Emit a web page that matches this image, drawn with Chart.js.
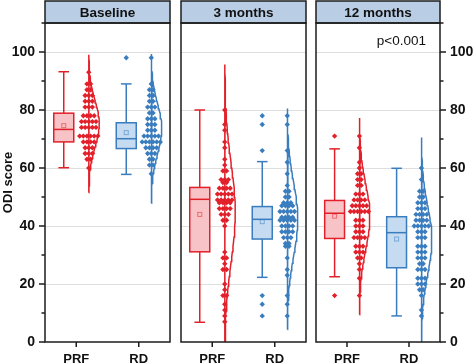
<!DOCTYPE html>
<html>
<head>
<meta charset="utf-8">
<script src="https://cdn.jsdelivr.net/npm/chart.js@4.4.1/dist/chart.umd.min.js"></script>
<style>
  html, body { margin: 0; padding: 0; background: #fff; }
  #wrap { position: relative; width: 474px; height: 364px; }
  #wrap canvas { position: absolute; left: 0; top: 0; }
</style>
</head>
<body>
<div id="wrap">
  <canvas id="c0" width="474" height="364"></canvas>
  <canvas id="c1" width="474" height="364"></canvas>
  <canvas id="c2" width="474" height="364"></canvas>
</div>
<script>
const panels = ['Baseline', '3 months', '12 months'];
const groups = ['PRF', 'RD'];
const yTicks = [0, 20, 40, 60, 80, 100];

// individual ODI scores
const prfBaseline = [93, 89, 89, 87, 87, 85, 85, 85, 83, 83, 83, 81, 81, 81, 78, 78, 78, 78,
  76, 76, 76, 76, 76, 74, 74, 74, 74, 74, 71, 71, 71, 71, 71, 71, 69, 69, 69, 69,
  67, 67, 67, 65, 65, 65, 63, 63, 60];
const rdBaseline = [98, 89, 87, 87, 85, 85, 83, 83, 81, 81, 81, 79, 79, 77, 77, 77, 75, 75, 75,
  73, 73, 73, 71, 71, 71, 71, 71, 69, 69, 69, 69, 69, 69, 67, 67, 67, 67, 65, 65, 65,
  63, 63, 61, 61, 58];
const prf3m = [80, 75, 73, 69, 67, 63, 61, 59, 59, 56, 56, 56, 55, 55, 53, 53, 53, 53,
  51, 51, 51, 51, 51, 49, 49, 49, 49, 49, 48, 48, 48, 48, 46, 46, 46, 46, 44, 44, 44,
  42, 42, 40, 31, 29, 29, 27, 25, 25, 20, 18, 16, 16, 13, 11, 9, 7];
const rd3m = [78, 75, 66, 62, 58, 54, 52, 52, 50, 50, 48, 48, 48, 47, 47, 47, 47,
  45, 45, 45, 45, 45, 43, 43, 43, 43, 42, 42, 42, 42, 42, 40, 40, 40, 40, 38, 38, 38, 38,
  36, 36, 36, 34, 34, 33, 33, 29, 25, 23, 16, 13, 9];
const prf12m = [71, 67, 62, 60, 58, 58, 56, 56, 54, 54, 51, 51, 51, 49, 49, 49, 49,
  47, 47, 47, 47, 47, 45, 45, 45, 45, 45, 45, 42, 42, 42, 40, 40, 40, 38, 38, 38,
  36, 36, 36, 36, 33, 33, 33, 31, 31, 31, 29, 29, 27, 25, 22, 16];
const rd12m = [60, 56, 52, 52, 50, 50, 48, 48, 48, 46, 46, 46, 44, 44, 44, 44, 42, 42, 42, 42,
  40, 40, 40, 40, 40, 38, 38, 38, 36, 36, 36, 33, 33, 33, 31, 31, 31, 29, 29, 29, 27, 27,
  25, 25, 25, 22, 22, 22, 20, 20, 20, 18, 18, 16, 11, 9];

// box stats per panel: [whisker low, Q1, median, Q3, whisker high, mean]
const prfBox = [[60.1, 69, 73.3, 78.9, 93.2, 74.6], [6.8, 31.1, 49.2, 53.3, 80, 44], [22.5, 35.7, 44.4, 48.8, 66.6, 43.4]];
const rdBox = [[57.8, 66.7, 70.1, 75.6, 89, 72.2], [22.3, 35.5, 42.3, 46.7, 62.2, 41.5], [9, 25.6, 37.7, 43.2, 59.9, 35.5]];
const prfOutliers = [[], [], [71, 16]];
const rdOutliers = [[98], [78, 75, 66, 16, 13, 9], []];

const prfData = [prfBaseline, prf3m, prf12m];
const rdData = [rdBaseline, rd3m, rd12m];

const RED = '#e2202a';
const BLUE = '#3a7dbf';
const RED_FILL = '#f8c3c6';
const BLUE_FILL = '#c4dbf1';
const DARK = '#1c1c1c';
const FONT = 'Liberation Sans, Arial, sans-serif';

// horizontal layout in x units (62.5 px per unit)
const BOX_OFF = -0.2, LINE_OFF = 0.2, BOX_HALF = 0.16, CAP_HALF = 0.085, STEP = 0.058, PEAK = 0.168;

const pads = [
  { left: 0, right: 304, top: 23, bottom: 0 },
  { left: 181, right: 168, top: 23, bottom: 0 },
  { left: 316, right: 0, top: 23, bottom: 0 }
];
const axisW = [45, 0, 34];

function swarm(values, cx) {
  const counts = new Map();
  values.forEach((v) => counts.set(v, (counts.get(v) || 0) + 1));
  const pts = [];
  counts.forEach((n, v) => {
    for (let i = 0; i < n; i++) pts.push({ x: cx + (i - (n - 1) / 2) * STEP, y: v });
  });
  return pts;
}

// normal curve fitted to the scores, drawn as a half violin
function normalCurve(values, cx) {
  const n = values.length;
  const mean = values.reduce((s, v) => s + v, 0) / n;
  const sd = Math.sqrt(values.reduce((s, v) => s + (v - mean) ** 2, 0) / (n - 1));
  const pts = [];
  for (let i = 0; i <= 60; i++) {
    const z = -3 + i * 0.1;
    pts.push({ x: cx + PEAK * Math.exp(-z * z / 2), y: mean + z * sd });
  }
  pts.push({ x: cx, y: mean + 3 * sd }, { x: cx, y: mean - 3 * sd });
  return pts;
}

function line(ctx, x1, y1, x2, y2) {
  ctx.beginPath();
  ctx.moveTo(x1, y1);
  ctx.lineTo(x2, y2);
  ctx.stroke();
}

function drawBox(ctx, x, y, center, stats, color, fill) {
  const [lo, q1, med, q3, hi, mean] = stats;
  const xc = x.getPixelForValue(center);
  const half = x.getPixelForValue(center + BOX_HALF) - xc;
  const cap = x.getPixelForValue(center + CAP_HALF) - xc;
  const py = (v) => y.getPixelForValue(v);
  ctx.save();
  ctx.strokeStyle = color;
  ctx.lineWidth = 1.5;
  line(ctx, xc, py(hi), xc, py(q3));
  line(ctx, xc, py(q1), xc, py(lo));
  line(ctx, xc - cap, py(hi), xc + cap, py(hi));
  line(ctx, xc - cap, py(lo), xc + cap, py(lo));
  ctx.fillStyle = fill;
  ctx.fillRect(xc - half, py(q3), 2 * half, py(q1) - py(q3));
  ctx.strokeRect(xc - half, py(q3), 2 * half, py(q1) - py(q3));
  line(ctx, xc - half, py(med), xc + half, py(med));
  ctx.globalAlpha = 0.55;
  ctx.lineWidth = 1;
  ctx.strokeRect(xc - 2, py(mean) - 2, 4, 4);
  ctx.restore();
}

const panelPlugin = {
  id: 'panel',
  beforeDatasetsDraw(chart, args, opts) {
    const { ctx, scales: { x, y } } = chart;
    const i = opts.idx;
    drawBox(ctx, x, y, 0 + BOX_OFF, prfBox[i], RED, RED_FILL);
    drawBox(ctx, x, y, 1 + BOX_OFF, rdBox[i], BLUE, BLUE_FILL);
  },
  afterDraw(chart, args, opts) {
    const { ctx, chartArea: a, scales: { x, y } } = chart;
    const i = opts.idx;
    ctx.save();
    ctx.strokeStyle = DARK;
    ctx.lineWidth = 1.5;

    // header strip
    ctx.fillStyle = '#b9cde5';
    ctx.fillRect(a.left, 1, a.right - a.left, a.top - 1);
    ctx.strokeRect(a.left, 1, a.right - a.left, a.top - 1);
    ctx.fillStyle = '#111';
    ctx.font = `bold 13.5px ${FONT}`;
    ctx.textAlign = 'center';
    ctx.textBaseline = 'middle';
    ctx.fillText(panels[i], (a.left + a.right) / 2, (a.top + 1) / 2 + 1);

    // frame
    ctx.strokeRect(a.left, a.top, a.right - a.left, a.bottom - a.top);

    // x ticks
    groups.forEach((g, k) => {
      const px = x.getPixelForValue(k);
      line(ctx, px, a.bottom, px, a.bottom + 5);
    });

    // y ticks (major + minor) on the outer panels
    if (i !== 1) {
      const edge = i === 0 ? a.left : a.right;
      const dir = i === 0 ? -1 : 1;
      for (let v = 0; v <= 110; v += 10) {
        const len = v % 20 === 0 ? 6 : 3.5;
        const py = y.getPixelForValue(v);
        line(ctx, edge, py, edge + dir * len, py);
      }
    }

    if (i === 0) {
      ctx.save();
      ctx.translate(8, (a.top + a.bottom) / 2);
      ctx.rotate(-Math.PI / 2);
      ctx.font = `bold 13px ${FONT}`;
      ctx.textAlign = 'center';
      ctx.textBaseline = 'middle';
      ctx.fillStyle = '#111';
      ctx.fillText('ODI score', 0, 0);
      ctx.restore();
    }
    if (i === 2) {
      ctx.font = `13.5px ${FONT}`;
      ctx.textAlign = 'right';
      ctx.textBaseline = 'middle';
      ctx.fillStyle = '#111';
      ctx.fillText('p<0.001', a.right - 14, 41);
    }
    ctx.restore();
  }
};

function makeChart(i) {
  const dot = { pointStyle: 'rectRot', pointRadius: 2.7, borderWidth: 0 };
  const curve = { showLine: true, borderWidth: 1.5, pointRadius: 0 };
  new Chart(document.getElementById('c' + i), {
    type: 'scatter',
    data: {
      datasets: [
        { ...dot, data: swarm(prfData[i], 0 + LINE_OFF), backgroundColor: RED },
        { ...dot, data: swarm(rdData[i], 1 + LINE_OFF), backgroundColor: BLUE },
        { ...dot, data: prfOutliers[i].map((v) => ({ x: 0 + BOX_OFF, y: v })), backgroundColor: RED },
        { ...dot, data: rdOutliers[i].map((v) => ({ x: 1 + BOX_OFF, y: v })), backgroundColor: BLUE },
        { ...curve, data: normalCurve(prfData[i], 0 + LINE_OFF), borderColor: RED },
        { ...curve, data: normalCurve(rdData[i], 1 + LINE_OFF), borderColor: BLUE }
      ]
    },
    options: {
      responsive: false,
      animation: false,
      layout: { padding: pads[i] },
      plugins: {
        legend: { display: false },
        tooltip: { enabled: false },
        panel: { idx: i }
      },
      scales: {
        x: {
          type: 'linear',
          min: -0.5,
          max: 1.5,
          afterBuildTicks: (s) => { s.ticks = groups.map((g, k) => ({ value: k })); },
          afterFit: (s) => { s.height = 22; },
          ticks: {
            callback: (v) => groups[v],
            padding: 10,
            color: '#111',
            font: { family: FONT, size: 13, weight: 'bold' }
          },
          grid: { display: false, drawTicks: false },
          border: { display: false }
        },
        y: {
          min: 0,
          max: 110,
          position: i === 2 ? 'right' : 'left',
          afterBuildTicks: (s) => { s.ticks = yTicks.map((v) => ({ value: v })); },
          afterFit: (s) => { s.width = axisW[i]; },
          ticks: {
            display: i !== 1,
            padding: 10,
            color: '#111',
            font: { family: FONT, size: 14, weight: 'bold' }
          },
          grid: {
            drawTicks: false,
            lineWidth: 1,
            color: (c) => (c.tick && c.tick.value > 0 && c.tick.value < 110) ? '#dedede' : 'rgba(0,0,0,0)'
          },
          border: { display: false }
        }
      }
    },
    plugins: [panelPlugin]
  });
}

[0, 1, 2].forEach(makeChart);
</script>
</body>
</html>
